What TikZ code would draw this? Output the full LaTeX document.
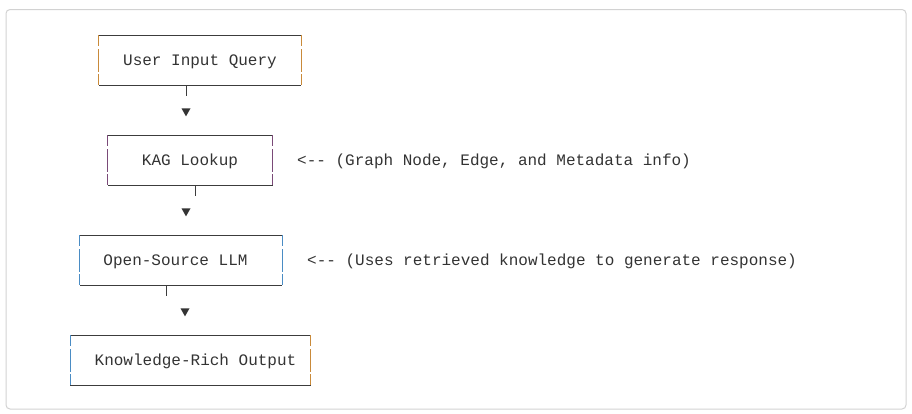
\documentclass[tikz,border=0pt]{standalone}
\usepackage{fontspec}
\setmonofont{Liberation Mono}
\usepackage{xcolor}
\usepackage{tikz}
\usetikzlibrary{shapes.geometric,positioning,fit,calc}

\definecolor{inkgray}{HTML}{333333}
\definecolor{rulegray}{HTML}{3C3C3C}
\definecolor{framegray}{HTML}{D2D2D2}
\definecolor{fringeorange}{HTML}{C98A3A}
\definecolor{fringeblue}{HTML}{4A8CC4}
\definecolor{fringeplum}{HTML}{7A4A78}

\begin{document}
\begin{tikzpicture}[x=1pt, y=-1pt, font=\ttfamily\fontsize{16}{18}\selectfont]
	\tikzset{box/.style={inner sep=0pt, draw=none},
		lbl/.style={text=inkgray, inner sep=0pt, anchor=center},
		note/.style={text=inkgray, inner sep=0pt, anchor=west},
		rim/.style={rulegray, line width=1pt},
		side/.style={line width=1.2pt, dash pattern=on 11pt off 3pt on 23pt off 2pt on 11pt},
		stub/.style={rulegray, line width=1pt},
		tri/.style={isosceles triangle, shape border rotate=270, isosceles triangle stretches,
			minimum width=9pt, minimum height=8pt, inner sep=0pt, fill=inkgray, draw=none}}

	\useasboundingbox (0,0) rectangle (912,413);

	% frame
	\draw[framegray, line width=1pt, rounded corners=4pt] (6,9.5) rectangle (906,409);

	% boxes
	\node[box, fit={(99,35.5) (301,85)}] (querybox) {};
	\node[lbl] (query) at (200,61.5) {User Input Query};

	\node[box, fit={(108,135.5) (272.5,185)}] (kagbox) {};
	\node[lbl] (kag) at (190,161.5) {KAG Lookup};

	\node[box, fit={(80,235.5) (282,285)}] (llmbox) {};
	\node[lbl] (llm) at (175.5,261.5) {Open-Source LLM};

	\node[box, fit={(70.5,335.5) (310.5,385)}] (outbox) {};
	\node[lbl] (out) at (195.5,361.5) {Knowledge-Rich Output};

	% notes
	\node[note] (kagnote) at (297,161.5) {<-{}- (Graph Node, Edge, and Metadata info)};
	\node[note] (llmnote) at (307,261.5) {<-{}- (Uses retrieved knowledge to generate response)};

	% box rims
	\foreach \b/\lc/\rc in {querybox/fringeorange/fringeorange,
		kagbox/fringeplum/fringeplum,
		llmbox/fringeblue/fringeblue,
		outbox/fringeblue/fringeorange}{
		\draw[rim] (\b.north west) -- (\b.north east);
		\draw[rim] (\b.south west) -- (\b.south east);
		\draw[side, \lc] (\b.north west) -- (\b.south west);
		\draw[side, \rc] (\b.north east) -- (\b.south east);
	}

	% arrow heads
	\node[tri] (tria) at (186,111) {};
	\node[tri] (trib) at (186,211) {};
	\node[tri] (tric) at (185,311) {};

	% stubs
	\coordinate (stuba) at (186,95.5);
	\coordinate (stubb) at (195.7,195.5);
	\coordinate (stubc) at (166.7,295.5);
	\draw[stub] (querybox.south -| stuba) -- (stuba);
	\draw[stub] (kagbox.south -| stubb) -- (stubb);
	\draw[stub] (llmbox.south -| stubc) -- (stubc);
\end{tikzpicture}
\end{document}
